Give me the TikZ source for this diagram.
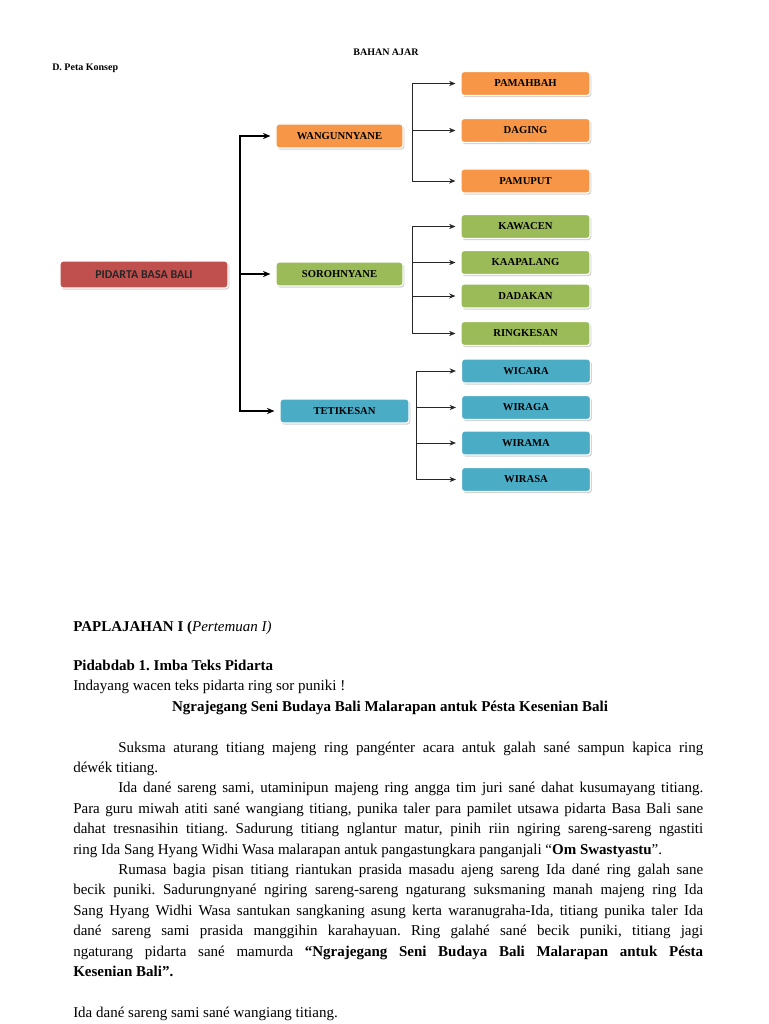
\documentclass[tikz,border=0pt]{standalone}
\usepackage{fontspec}
\setmainfont{Liberation Serif}
\newfontfamily\calibfont{Carlito}
\usetikzlibrary{shadows,arrows.meta}
\definecolor{redC}{HTML}{C0504D}
\definecolor{orangeC}{HTML}{F79646}
\definecolor{greenC}{HTML}{9BBB59}
\definecolor{blueC}{HTML}{4BACC6}
\frenchspacing
\begin{document}
\begin{tikzpicture}[x=0.8pt,y=-0.8pt,
  box/.style={rounded corners=2.4pt, draw=white, line width=1pt, minimum height=19.2pt,
    inner sep=0pt, text=black, font=\bfseries\fontsize{8.5}{10}\selectfont,
    drop shadow={shadow xshift=1pt, shadow yshift=-1.3pt, opacity=0.3, fill=black!60}},
  rootbox/.style={box, fill=redC, minimum width=134.4pt, minimum height=21.6pt, text=black!85,
    font=\calibfont\bfseries\fontsize{9.6}{11}\selectfont},
  obox/.style={box, fill=orangeC},
  gbox/.style={box, fill=greenC},
  bbox/.style={box, fill=blueC},
  kid/.style={minimum width=103.2pt},
  trunk/.style={line width=1.4pt, black, line join=miter,
    arrows={-{Stealth[length=6pt,width=5pt]}}, shorten >=4pt},
  trunkboth/.style={line width=1.4pt, black, line join=miter,
    arrows={{Stealth[length=6pt,width=5pt]}-{Stealth[length=6pt,width=5pt]}}, shorten >=4pt, shorten <=4pt},
  branch/.style={line width=0.6pt, black!85, line join=miter,
    arrows={-{Stealth[length=5pt,width=4.2pt]}}, shorten >=4pt},
  branchboth/.style={line width=0.6pt, black!85, line join=miter,
    arrows={{Stealth[length=5pt,width=4.2pt]}-{Stealth[length=5pt,width=4.2pt]}}, shorten >=4pt, shorten <=4pt},
  txt/.style={inner sep=0pt, anchor=base west, font=\fontsize{12}{14}\selectfont},
  btxt/.style={txt, font=\bfseries\fontsize{12}{14}\selectfont},
  small/.style={inner sep=0pt, font=\bfseries\fontsize{8}{10}\selectfont}
]
\useasboundingbox[fill=white] (0,0) rectangle (768,1024);

% header
\node[small, anchor=base] (title) at (386,56) {BAHAN AJAR};
\node[small, anchor=base west] (peta) at (52,71) {D. Peta Konsep};

% concept map
\node[rootbox] (root) at (144,274.5) {PIDARTA BASA BALI};
\node[obox, minimum width=101.6pt] (wang) at (339.5,136) {WANGUNNYANE};
\node[gbox, minimum width=101.6pt] (soroh) at (339.5,274) {SOROHNYANE};
\node[bbox, minimum width=103.2pt] (tetik) at (344.5,411) {TETIKESAN};

\node[obox, kid] (pamah) at (525.5,83.5) {PAMAHBAH};
\node[obox, kid] (dagi) at (525.5,130.5) {DAGING};
\node[obox, kid] (pamup) at (525.5,181) {PAMUPUT};

\node[gbox, kid] (kawa) at (525.5,226.5) {KAWACEN};
\node[gbox, kid] (kaap) at (525.5,262.5) {KAAPALANG};
\node[gbox, kid] (dada) at (525.5,296) {DADAKAN};
\node[gbox, kid] (ring) at (525.5,333.5) {RINGKESAN};

\node[bbox, kid] (wica) at (526,371) {WICARA};
\node[bbox, kid] (wira) at (526,407.5) {WIRAGA};
\node[bbox, kid] (wirm) at (526,443) {WIRAMA};
\node[bbox, kid] (wirs) at (526,479.5) {WIRASA};

\coordinate (tx) at (240,0);
\coordinate (ox) at (412,0);
\coordinate (bx) at (416,0);

\draw[trunkboth] (wang.west) -- (wang.west -| tx) -- (tetik.west -| tx) -- (tetik.west);
\draw[trunk] (soroh.west -| tx) -- (soroh.west);

\draw[branchboth] (pamah.west) -- (pamah.west -| ox) -- (pamup.west -| ox) -- (pamup.west);
\draw[branch] (dagi.west -| ox) -- (dagi.west);

\draw[branchboth] (kawa.west) -- (kawa.west -| ox) -- (ring.west -| ox) -- (ring.west);
\draw[branch] (kaap.west -| ox) -- (kaap.west);
\draw[branch] (dada.west -| ox) -- (dada.west);

\draw[branchboth] (wica.west) -- (wica.west -| bx) -- (wirs.west -| bx) -- (wirs.west);
\draw[branch] (wira.west -| bx) -- (wira.west);
\draw[branch] (wirm.west -| bx) -- (wirm.west);

% text
\node[btxt] (h1) at (73,631) {PAPLAJAHAN I (\textit{\mdseries Pertemuan I)}};
\node[btxt] (h2) at (73,670) {Pidabdab 1. Imba Teks Pidarta};
\node[txt] (h3) at (73,690.5) {Indayang wacen teks pidarta ring sor puniki !};
\node[btxt, anchor=base] (h4) at (390,711) {Ngrajegang Seni Budaya Bali Malarapan antuk Pésta Kesenian Bali};

\node[txt] (l1) at (118,752) {\makebox[468pt][s]{Suksma aturang titiang majeng ring pangénter acara antuk galah sané sampun kapica ring}};
\node[txt] (l2) at (73,772.4) {déwék titiang.};
\node[txt] (l3) at (118,792.8) {\makebox[468pt][s]{Ida dané sareng sami, utaminipun majeng ring angga tim juri sané dahat kusumayang titiang.}};
\node[txt] (l4) at (73,813.2) {\makebox[504pt][s]{Para guru miwah atiti sané wangiang titiang, punika taler para pamilet utsawa pidarta Basa Bali sane}};
\node[txt] (l5) at (73,833.6) {\makebox[504pt][s]{dahat tresnasihin titiang. Sadurung titiang nglantur matur, pinih riin ngiring sareng-sareng ngastiti}};
\node[txt] (l6) at (73,854) {ring Ida Sang Hyang Widhi Wasa malarapan antuk pangastungkara panganjali “\textbf{Om Swastyastu}”.};
\node[txt] (l7) at (118,874.4) {\makebox[468pt][s]{Rumasa bagia pisan titiang riantukan prasida masadu ajeng sareng Ida dané ring galah sane}};
\node[txt] (l8) at (73,894.8) {\makebox[504pt][s]{becik puniki. Sadurungnyané ngiring sareng-sareng ngaturang suksmaning manah majeng ring Ida}};
\node[txt] (l9) at (73,915.2) {\makebox[504pt][s]{Sang Hyang Widhi Wasa santukan sangkaning asung kerta waranugraha-Ida, titiang punika taler Ida}};
\node[txt] (l10) at (73,935.6) {\makebox[504pt][s]{dané sareng sami prasida manggihin karahayuan. Ring galahé sané becik puniki, titiang jagi}};
\node[txt] (l11) at (73,956) {\makebox[504pt][s]{ngaturang pidarta sané mamurda \textbf{“Ngrajegang Seni Budaya Bali Malarapan antuk Pésta}}};
\node[btxt] (l12) at (73,976.4) {Kesenian Bali”.};
\node[txt] (l13) at (73,1017.2) {Ida dané sareng sami sané wangiang titiang.};
\end{tikzpicture}
\end{document}
